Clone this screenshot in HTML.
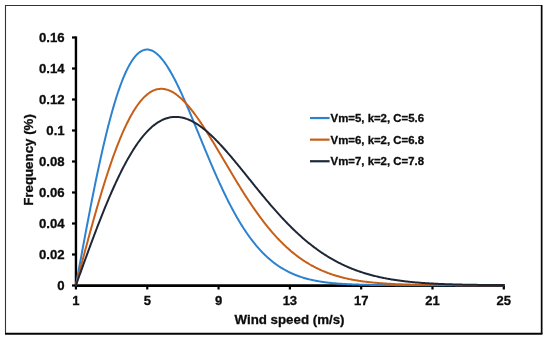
<!DOCTYPE html>
<html><head><meta charset="utf-8"><title>Weibull distribution</title>
<style>html,body{margin:0;padding:0;background:#fff;}text{stroke:#0c0c0c;stroke-width:.3px;}body{width:550px;height:342px;overflow:hidden;position:relative;font-family:"Liberation Sans",sans-serif;}</style>
</head><body>
<svg width="550" height="342" viewBox="0 0 550 342" style="position:absolute;left:0;top:0" font-family="Liberation Sans, sans-serif" font-weight="bold" fill="#0c0c0c">
<rect x="0" y="0" width="550" height="342" fill="#fff"/>
<path d="M5.5,334 V5.5 H542" fill="none" stroke="#333" stroke-width="1.1"/>
<path d="M5,333.65 H542.4" fill="none" stroke="#050505" stroke-width="2"/>
<path d="M541.65,5 V334" fill="none" stroke="#050505" stroke-width="1.7"/>
<path d="M75.95,36.4 V286.6" stroke="#000" stroke-width="2.4" fill="none"/>
<path d="M74.75,285.65 H504.90000000000003" stroke="#000" stroke-width="2.7" fill="none"/>
<path d="M72,285.50 H75.95" stroke="#000" stroke-width="2.2"/>
<text x="64.7" y="290.10" font-size="13.2" text-anchor="end">0</text>
<path d="M72,254.50 H75.95" stroke="#000" stroke-width="2.2"/>
<text x="64.7" y="259.10" font-size="13.2" text-anchor="end">0.02</text>
<path d="M72,223.50 H75.95" stroke="#000" stroke-width="2.2"/>
<text x="64.7" y="228.10" font-size="13.2" text-anchor="end">0.04</text>
<path d="M72,192.50 H75.95" stroke="#000" stroke-width="2.2"/>
<text x="64.7" y="197.10" font-size="13.2" text-anchor="end">0.06</text>
<path d="M72,161.50 H75.95" stroke="#000" stroke-width="2.2"/>
<text x="64.7" y="166.10" font-size="13.2" text-anchor="end">0.08</text>
<path d="M72,130.50 H75.95" stroke="#000" stroke-width="2.2"/>
<text x="64.7" y="135.10" font-size="13.2" text-anchor="end">0.1</text>
<path d="M72,99.50 H75.95" stroke="#000" stroke-width="2.2"/>
<text x="64.7" y="104.10" font-size="13.2" text-anchor="end">0.12</text>
<path d="M72,68.50 H75.95" stroke="#000" stroke-width="2.2"/>
<text x="64.7" y="73.10" font-size="13.2" text-anchor="end">0.14</text>
<path d="M72,37.50 H75.95" stroke="#000" stroke-width="2.2"/>
<text x="64.7" y="42.10" font-size="13.2" text-anchor="end">0.16</text>
<path d="M75.95,285.5 V289.5" stroke="#000" stroke-width="2.2"/>
<text x="75.95" y="304.9" font-size="13" text-anchor="middle">1</text>
<path d="M147.26,285.5 V289.5" stroke="#000" stroke-width="2.2"/>
<text x="147.26" y="304.9" font-size="13" text-anchor="middle">5</text>
<path d="M218.57,285.5 V289.5" stroke="#000" stroke-width="2.2"/>
<text x="218.57" y="304.9" font-size="13" text-anchor="middle">9</text>
<path d="M289.88,285.5 V289.5" stroke="#000" stroke-width="2.2"/>
<text x="289.88" y="304.9" font-size="13" text-anchor="middle">13</text>
<path d="M361.18,285.5 V289.5" stroke="#000" stroke-width="2.2"/>
<text x="361.18" y="304.9" font-size="13" text-anchor="middle">17</text>
<path d="M432.49,285.5 V289.5" stroke="#000" stroke-width="2.2"/>
<text x="432.49" y="304.9" font-size="13" text-anchor="middle">21</text>
<path d="M503.80,285.5 V289.5" stroke="#000" stroke-width="2.2"/>
<text x="503.80" y="304.9" font-size="13" text-anchor="middle">25</text>
<path d="M75.95,285.20 L76.84,280.33 L77.73,275.46 L78.62,270.60 L79.52,265.75 L80.41,260.90 L81.30,256.07 L82.19,251.24 L83.08,246.44 L83.97,241.65 L84.86,236.89 L85.75,232.14 L86.65,227.42 L87.54,222.73 L88.43,218.07 L89.32,213.44 L90.21,208.84 L91.10,204.28 L91.99,199.75 L92.89,195.27 L93.78,190.82 L94.67,186.42 L95.56,182.07 L96.45,177.76 L97.34,173.50 L98.23,169.29 L99.13,165.14 L100.02,161.04 L100.91,157.00 L101.80,153.01 L102.69,149.09 L103.58,145.22 L104.47,141.42 L105.36,137.68 L106.26,134.01 L107.15,130.40 L108.04,126.86 L108.93,123.40 L109.82,120.00 L110.71,116.67 L111.60,113.42 L112.50,110.24 L113.39,107.14 L114.28,104.12 L115.17,101.17 L116.06,98.29 L116.95,95.50 L117.84,92.79 L118.74,90.16 L119.63,87.60 L120.52,85.13 L121.41,82.74 L122.30,80.44 L123.19,78.21 L124.08,76.07 L124.97,74.01 L125.87,72.04 L126.76,70.15 L127.65,68.35 L128.54,66.63 L129.43,64.99 L130.32,63.44 L131.21,61.97 L132.11,60.58 L133.00,59.28 L133.89,58.07 L134.78,56.93 L135.67,55.88 L136.56,54.91 L137.45,54.03 L138.34,53.22 L139.24,52.50 L140.13,51.86 L141.02,51.30 L141.91,50.81 L142.80,50.41 L143.69,50.09 L144.58,49.84 L145.48,49.67 L146.37,49.57 L147.26,49.55 L148.15,49.60 L149.04,49.73 L149.93,49.92 L150.82,50.19 L151.72,50.53 L152.61,50.94 L153.50,51.41 L154.39,51.95 L155.28,52.56 L156.17,53.23 L157.06,53.96 L157.95,54.75 L158.85,55.61 L159.74,56.52 L160.63,57.50 L161.52,58.53 L162.41,59.61 L163.30,60.75 L164.19,61.94 L165.09,63.18 L165.98,64.47 L166.87,65.81 L167.76,67.20 L168.65,68.64 L169.54,70.11 L170.43,71.63 L171.32,73.19 L172.22,74.80 L173.11,76.44 L174.00,78.11 L174.89,79.83 L175.78,81.57 L176.67,83.36 L177.56,85.17 L178.46,87.01 L179.35,88.88 L180.24,90.78 L181.13,92.70 L182.02,94.65 L182.91,96.62 L183.80,98.62 L184.70,100.63 L185.59,102.67 L186.48,104.72 L187.37,106.78 L188.26,108.87 L189.15,110.97 L190.04,113.08 L190.93,115.20 L191.83,117.33 L192.72,119.47 L193.61,121.62 L194.50,123.77 L195.39,125.94 L196.28,128.10 L197.17,130.27 L198.07,132.44 L198.96,134.62 L199.85,136.79 L200.74,138.96 L201.63,141.13 L202.52,143.30 L203.41,145.46 L204.31,147.62 L205.20,149.77 L206.09,151.92 L206.98,154.06 L207.87,156.19 L208.76,158.32 L209.65,160.43 L210.54,162.53 L211.44,164.62 L212.33,166.70 L213.22,168.77 L214.11,170.82 L215.00,172.86 L215.89,174.89 L216.78,176.90 L217.68,178.89 L218.57,180.87 L219.46,182.83 L220.35,184.78 L221.24,186.70 L222.13,188.61 L223.02,190.50 L223.91,192.37 L224.81,194.23 L225.70,196.06 L226.59,197.87 L227.48,199.66 L228.37,201.43 L229.26,203.18 L230.15,204.91 L231.05,206.62 L231.94,208.30 L232.83,209.96 L233.72,211.61 L234.61,213.23 L235.50,214.82 L236.39,216.40 L237.29,217.95 L238.18,219.48 L239.07,220.98 L239.96,222.47 L240.85,223.93 L241.74,225.37 L242.63,226.78 L243.52,228.17 L244.42,229.54 L245.31,230.89 L246.20,232.21 L247.09,233.51 L247.98,234.79 L248.87,236.05 L249.76,237.28 L250.66,238.49 L251.55,239.68 L252.44,240.85 L253.33,241.99 L254.22,243.11 L255.11,244.22 L256.00,245.29 L256.89,246.35 L257.79,247.39 L258.68,248.41 L259.57,249.40 L260.46,250.37 L261.35,251.33 L262.24,252.26 L263.13,253.18 L264.03,254.07 L264.92,254.94 L265.81,255.80 L266.70,256.64 L267.59,257.45 L268.48,258.25 L269.37,259.03 L270.27,259.79 L271.16,260.54 L272.05,261.27 L272.94,261.98 L273.83,262.67 L274.72,263.34 L275.61,264.00 L276.50,264.65 L277.40,265.27 L278.29,265.89 L279.18,266.48 L280.07,267.06 L280.96,267.63 L281.85,268.18 L282.74,268.72 L283.64,269.24 L284.53,269.75 L285.42,270.24 L286.31,270.72 L287.20,271.19 L288.09,271.65 L288.98,272.09 L289.88,272.52 L290.77,272.94 L291.66,273.35 L292.55,273.75 L293.44,274.13 L294.33,274.50 L295.22,274.87 L296.11,275.22 L297.01,275.56 L297.90,275.89 L298.79,276.21 L299.68,276.53 L300.57,276.83 L301.46,277.12 L302.35,277.41 L303.25,277.68 L304.14,277.95 L305.03,278.21 L305.92,278.46 L306.81,278.70 L307.70,278.94 L308.59,279.17 L309.48,279.39 L310.38,279.60 L311.27,279.81 L312.16,280.01 L313.05,280.20 L313.94,280.39 L314.83,280.57 L315.72,280.74 L316.62,280.91 L317.51,281.08 L318.40,281.23 L319.29,281.38 L320.18,281.53 L321.07,281.67 L321.96,281.81 L322.86,281.94 L323.75,282.07 L324.64,282.19 L325.53,282.31 L326.42,282.43 L327.31,282.54 L328.20,282.64 L329.09,282.75 L329.99,282.85 L330.88,282.94 L331.77,283.03 L332.66,283.12 L333.55,283.21 L334.44,283.29 L335.33,283.37 L336.23,283.44 L337.12,283.52 L338.01,283.59 L338.90,283.65 L339.79,283.72 L340.68,283.78 L341.57,283.84 L342.46,283.90 L343.36,283.96 L344.25,284.01 L345.14,284.06 L346.03,284.11 L346.92,284.16 L347.81,284.20 L348.70,284.25 L349.60,284.29 L350.49,284.33 L351.38,284.37 L352.27,284.40 L353.16,284.44 L354.05,284.47 L354.94,284.51 L355.84,284.54 L356.73,284.57 L357.62,284.60 L358.51,284.62 L359.40,284.65 L360.29,284.67 L361.18,284.70 L362.07,284.72 L362.97,284.74 L363.86,284.77 L364.75,284.79 L365.64,284.81 L366.53,284.82 L367.42,284.84 L368.31,284.86 L369.21,284.87 L370.10,284.89 L370.99,284.90 L371.88,284.92 L372.77,284.93 L373.66,284.95 L374.55,284.96 L375.44,284.97 L376.34,284.98 L377.23,284.99 L378.12,285.00 L379.01,285.01 L379.90,285.02 L380.79,285.03 L381.68,285.04 L382.58,285.05 L383.47,285.05 L384.36,285.06 L385.25,285.07 L386.14,285.07 L387.03,285.08 L387.92,285.09 L388.82,285.09 L389.71,285.10 L390.60,285.10 L391.49,285.11 L392.38,285.11 L393.27,285.12 L394.16,285.12 L395.05,285.13 L395.95,285.13 L396.84,285.13 L397.73,285.14 L398.62,285.14 L399.51,285.14 L400.40,285.15 L401.29,285.15 L402.19,285.15 L403.08,285.15 L403.97,285.16 L404.86,285.16 L405.75,285.16 L406.64,285.16 L407.53,285.17 L408.43,285.17 L409.32,285.17 L410.21,285.17 L411.10,285.17 L411.99,285.17 L412.88,285.18 L413.77,285.18 L414.66,285.18 L415.56,285.18 L416.45,285.18 L417.34,285.18 L418.23,285.18 L419.12,285.18 L420.01,285.18 L420.90,285.19 L421.80,285.19 L422.69,285.19 L423.58,285.19 L424.47,285.19 L425.36,285.19 L426.25,285.19 L427.14,285.19 L428.03,285.19 L428.93,285.19 L429.82,285.19 L430.71,285.19 L431.60,285.19 L432.49,285.19 L433.38,285.19 L434.27,285.19 L435.17,285.19 L436.06,285.19 L436.95,285.19 L437.84,285.20 L438.73,285.20 L439.62,285.20 L440.51,285.20 L441.41,285.20 L442.30,285.20 L443.19,285.20 L444.08,285.20 L444.97,285.20 L445.86,285.20 L446.75,285.20 L447.64,285.20 L448.54,285.20 L449.43,285.20 L450.32,285.20 L451.21,285.20 L452.10,285.20 L452.99,285.20 L453.88,285.20 L454.78,285.20 L455.67,285.20 L456.56,285.20 L457.45,285.20 L458.34,285.20 L459.23,285.20 L460.12,285.20 L461.02,285.20 L461.91,285.20 L462.80,285.20 L463.69,285.20 L464.58,285.20 L465.47,285.20 L466.36,285.20 L467.25,285.20 L468.15,285.20 L469.04,285.20 L469.93,285.20 L470.82,285.20 L471.71,285.20 L472.60,285.20 L473.49,285.20 L474.39,285.20 L475.28,285.20 L476.17,285.20 L477.06,285.20 L477.95,285.20 L478.84,285.20 L479.73,285.20 L480.62,285.20 L481.52,285.20 L482.41,285.20 L483.30,285.20 L484.19,285.20 L485.08,285.20 L485.97,285.20 L486.86,285.20 L487.76,285.20 L488.65,285.20 L489.54,285.20 L490.43,285.20 L491.32,285.20 L492.21,285.20 L493.10,285.20 L494.00,285.20 L494.89,285.20 L495.78,285.20 L496.67,285.20 L497.56,285.20 L498.45,285.20 L499.34,285.20 L500.23,285.20 L501.13,285.20 L502.02,285.20 L502.91,285.20 L503.80,285.20" fill="none" stroke="#2d82cf" stroke-width="2.0" stroke-linejoin="round" stroke-linecap="round"/>
<path d="M75.95,285.20 L76.84,281.82 L77.73,278.44 L78.62,275.06 L79.52,271.69 L80.41,268.32 L81.30,264.95 L82.19,261.59 L83.08,258.24 L83.97,254.90 L84.86,251.57 L85.75,248.25 L86.65,244.94 L87.54,241.64 L88.43,238.36 L89.32,235.10 L90.21,231.84 L91.10,228.61 L91.99,225.40 L92.89,222.20 L93.78,219.03 L94.67,215.87 L95.56,212.74 L96.45,209.64 L97.34,206.55 L98.23,203.49 L99.13,200.46 L100.02,197.46 L100.91,194.48 L101.80,191.53 L102.69,188.61 L103.58,185.72 L104.47,182.87 L105.36,180.04 L106.26,177.25 L107.15,174.49 L108.04,171.77 L108.93,169.08 L109.82,166.43 L110.71,163.82 L111.60,161.24 L112.50,158.70 L113.39,156.20 L114.28,153.74 L115.17,151.32 L116.06,148.94 L116.95,146.60 L117.84,144.31 L118.74,142.05 L119.63,139.84 L120.52,137.67 L121.41,135.55 L122.30,133.47 L123.19,131.43 L124.08,129.45 L124.97,127.50 L125.87,125.60 L126.76,123.75 L127.65,121.95 L128.54,120.19 L129.43,118.48 L130.32,116.81 L131.21,115.20 L132.11,113.63 L133.00,112.11 L133.89,110.64 L134.78,109.21 L135.67,107.84 L136.56,106.51 L137.45,105.23 L138.34,104.00 L139.24,102.82 L140.13,101.69 L141.02,100.61 L141.91,99.57 L142.80,98.59 L143.69,97.65 L144.58,96.76 L145.48,95.92 L146.37,95.13 L147.26,94.39 L148.15,93.69 L149.04,93.04 L149.93,92.44 L150.82,91.89 L151.72,91.38 L152.61,90.92 L153.50,90.51 L154.39,90.14 L155.28,89.82 L156.17,89.54 L157.06,89.31 L157.95,89.13 L158.85,88.98 L159.74,88.89 L160.63,88.83 L161.52,88.82 L162.41,88.86 L163.30,88.93 L164.19,89.05 L165.09,89.20 L165.98,89.40 L166.87,89.64 L167.76,89.92 L168.65,90.24 L169.54,90.59 L170.43,90.99 L171.32,91.42 L172.22,91.89 L173.11,92.39 L174.00,92.94 L174.89,93.51 L175.78,94.12 L176.67,94.77 L177.56,95.45 L178.46,96.16 L179.35,96.90 L180.24,97.68 L181.13,98.48 L182.02,99.32 L182.91,100.19 L183.80,101.08 L184.70,102.00 L185.59,102.95 L186.48,103.93 L187.37,104.93 L188.26,105.96 L189.15,107.01 L190.04,108.09 L190.93,109.19 L191.83,110.32 L192.72,111.46 L193.61,112.63 L194.50,113.82 L195.39,115.02 L196.28,116.25 L197.17,117.50 L198.07,118.76 L198.96,120.04 L199.85,121.34 L200.74,122.65 L201.63,123.98 L202.52,125.32 L203.41,126.68 L204.31,128.05 L205.20,129.44 L206.09,130.83 L206.98,132.24 L207.87,133.66 L208.76,135.08 L209.65,136.52 L210.54,137.97 L211.44,139.42 L212.33,140.88 L213.22,142.35 L214.11,143.83 L215.00,145.31 L215.89,146.79 L216.78,148.28 L217.68,149.78 L218.57,151.28 L219.46,152.78 L220.35,154.28 L221.24,155.79 L222.13,157.30 L223.02,158.81 L223.91,160.32 L224.81,161.83 L225.70,163.33 L226.59,164.84 L227.48,166.35 L228.37,167.85 L229.26,169.35 L230.15,170.85 L231.05,172.35 L231.94,173.84 L232.83,175.32 L233.72,176.81 L234.61,178.29 L235.50,179.76 L236.39,181.22 L237.29,182.69 L238.18,184.14 L239.07,185.59 L239.96,187.03 L240.85,188.46 L241.74,189.89 L242.63,191.30 L243.52,192.71 L244.42,194.11 L245.31,195.50 L246.20,196.89 L247.09,198.26 L247.98,199.62 L248.87,200.98 L249.76,202.32 L250.66,203.65 L251.55,204.97 L252.44,206.29 L253.33,207.59 L254.22,208.88 L255.11,210.15 L256.00,211.42 L256.89,212.67 L257.79,213.92 L258.68,215.15 L259.57,216.37 L260.46,217.57 L261.35,218.77 L262.24,219.95 L263.13,221.12 L264.03,222.27 L264.92,223.42 L265.81,224.55 L266.70,225.67 L267.59,226.77 L268.48,227.86 L269.37,228.94 L270.27,230.01 L271.16,231.06 L272.05,232.10 L272.94,233.13 L273.83,234.14 L274.72,235.14 L275.61,236.13 L276.50,237.10 L277.40,238.06 L278.29,239.01 L279.18,239.94 L280.07,240.86 L280.96,241.77 L281.85,242.66 L282.74,243.54 L283.64,244.41 L284.53,245.27 L285.42,246.11 L286.31,246.94 L287.20,247.76 L288.09,248.56 L288.98,249.35 L289.88,250.13 L290.77,250.89 L291.66,251.65 L292.55,252.39 L293.44,253.12 L294.33,253.83 L295.22,254.54 L296.11,255.23 L297.01,255.91 L297.90,256.58 L298.79,257.23 L299.68,257.88 L300.57,258.51 L301.46,259.14 L302.35,259.75 L303.25,260.35 L304.14,260.93 L305.03,261.51 L305.92,262.08 L306.81,262.63 L307.70,263.18 L308.59,263.71 L309.48,264.24 L310.38,264.75 L311.27,265.26 L312.16,265.75 L313.05,266.23 L313.94,266.71 L314.83,267.17 L315.72,267.63 L316.62,268.07 L317.51,268.51 L318.40,268.94 L319.29,269.35 L320.18,269.76 L321.07,270.16 L321.96,270.56 L322.86,270.94 L323.75,271.32 L324.64,271.68 L325.53,272.04 L326.42,272.39 L327.31,272.74 L328.20,273.07 L329.09,273.40 L329.99,273.72 L330.88,274.03 L331.77,274.34 L332.66,274.64 L333.55,274.93 L334.44,275.21 L335.33,275.49 L336.23,275.76 L337.12,276.03 L338.01,276.29 L338.90,276.54 L339.79,276.79 L340.68,277.03 L341.57,277.26 L342.46,277.49 L343.36,277.71 L344.25,277.93 L345.14,278.14 L346.03,278.35 L346.92,278.55 L347.81,278.74 L348.70,278.94 L349.60,279.12 L350.49,279.30 L351.38,279.48 L352.27,279.65 L353.16,279.82 L354.05,279.98 L354.94,280.14 L355.84,280.30 L356.73,280.45 L357.62,280.59 L358.51,280.73 L359.40,280.87 L360.29,281.01 L361.18,281.14 L362.07,281.27 L362.97,281.39 L363.86,281.51 L364.75,281.63 L365.64,281.74 L366.53,281.85 L367.42,281.96 L368.31,282.06 L369.21,282.16 L370.10,282.26 L370.99,282.36 L371.88,282.45 L372.77,282.54 L373.66,282.63 L374.55,282.71 L375.44,282.79 L376.34,282.87 L377.23,282.95 L378.12,283.03 L379.01,283.10 L379.90,283.17 L380.79,283.24 L381.68,283.30 L382.58,283.37 L383.47,283.43 L384.36,283.49 L385.25,283.55 L386.14,283.61 L387.03,283.66 L387.92,283.72 L388.82,283.77 L389.71,283.82 L390.60,283.87 L391.49,283.91 L392.38,283.96 L393.27,284.00 L394.16,284.04 L395.05,284.09 L395.95,284.13 L396.84,284.16 L397.73,284.20 L398.62,284.24 L399.51,284.27 L400.40,284.31 L401.29,284.34 L402.19,284.37 L403.08,284.40 L403.97,284.43 L404.86,284.46 L405.75,284.48 L406.64,284.51 L407.53,284.54 L408.43,284.56 L409.32,284.59 L410.21,284.61 L411.10,284.63 L411.99,284.65 L412.88,284.67 L413.77,284.69 L414.66,284.71 L415.56,284.73 L416.45,284.75 L417.34,284.77 L418.23,284.78 L419.12,284.80 L420.01,284.81 L420.90,284.83 L421.80,284.84 L422.69,284.86 L423.58,284.87 L424.47,284.88 L425.36,284.90 L426.25,284.91 L427.14,284.92 L428.03,284.93 L428.93,284.94 L429.82,284.95 L430.71,284.96 L431.60,284.97 L432.49,284.98 L433.38,284.99 L434.27,285.00 L435.17,285.01 L436.06,285.01 L436.95,285.02 L437.84,285.03 L438.73,285.04 L439.62,285.04 L440.51,285.05 L441.41,285.06 L442.30,285.06 L443.19,285.07 L444.08,285.07 L444.97,285.08 L445.86,285.08 L446.75,285.09 L447.64,285.09 L448.54,285.10 L449.43,285.10 L450.32,285.11 L451.21,285.11 L452.10,285.11 L452.99,285.12 L453.88,285.12 L454.78,285.12 L455.67,285.13 L456.56,285.13 L457.45,285.13 L458.34,285.14 L459.23,285.14 L460.12,285.14 L461.02,285.14 L461.91,285.15 L462.80,285.15 L463.69,285.15 L464.58,285.15 L465.47,285.16 L466.36,285.16 L467.25,285.16 L468.15,285.16 L469.04,285.16 L469.93,285.16 L470.82,285.17 L471.71,285.17 L472.60,285.17 L473.49,285.17 L474.39,285.17 L475.28,285.17 L476.17,285.17 L477.06,285.18 L477.95,285.18 L478.84,285.18 L479.73,285.18 L480.62,285.18 L481.52,285.18 L482.41,285.18 L483.30,285.18 L484.19,285.18 L485.08,285.18 L485.97,285.18 L486.86,285.19 L487.76,285.19 L488.65,285.19 L489.54,285.19 L490.43,285.19 L491.32,285.19 L492.21,285.19 L493.10,285.19 L494.00,285.19 L494.89,285.19 L495.78,285.19 L496.67,285.19 L497.56,285.19 L498.45,285.19 L499.34,285.19 L500.23,285.19 L501.13,285.19 L502.02,285.19 L502.91,285.19 L503.80,285.19" fill="none" stroke="#c75f18" stroke-width="2.0" stroke-linejoin="round" stroke-linecap="round"/>
<path d="M75.95,285.20 L76.84,282.72 L77.73,280.23 L78.62,277.75 L79.52,275.27 L80.41,272.79 L81.30,270.31 L82.19,267.84 L83.08,265.38 L83.97,262.91 L84.86,260.46 L85.75,258.00 L86.65,255.56 L87.54,253.12 L88.43,250.69 L89.32,248.27 L90.21,245.85 L91.10,243.45 L91.99,241.06 L92.89,238.67 L93.78,236.30 L94.67,233.94 L95.56,231.59 L96.45,229.26 L97.34,226.93 L98.23,224.63 L99.13,222.33 L100.02,220.05 L100.91,217.79 L101.80,215.54 L102.69,213.31 L103.58,211.09 L104.47,208.89 L105.36,206.71 L106.26,204.55 L107.15,202.41 L108.04,200.29 L108.93,198.18 L109.82,196.10 L110.71,194.04 L111.60,191.99 L112.50,189.97 L113.39,187.98 L114.28,186.00 L115.17,184.05 L116.06,182.11 L116.95,180.21 L117.84,178.32 L118.74,176.46 L119.63,174.63 L120.52,172.82 L121.41,171.04 L122.30,169.28 L123.19,167.54 L124.08,165.84 L124.97,164.16 L125.87,162.50 L126.76,160.87 L127.65,159.28 L128.54,157.70 L129.43,156.16 L130.32,154.64 L131.21,153.16 L132.11,151.70 L133.00,150.27 L133.89,148.86 L134.78,147.49 L135.67,146.15 L136.56,144.83 L137.45,143.55 L138.34,142.29 L139.24,141.07 L140.13,139.87 L141.02,138.71 L141.91,137.58 L142.80,136.47 L143.69,135.40 L144.58,134.35 L145.48,133.34 L146.37,132.36 L147.26,131.41 L148.15,130.49 L149.04,129.60 L149.93,128.74 L150.82,127.91 L151.72,127.11 L152.61,126.34 L153.50,125.60 L154.39,124.90 L155.28,124.22 L156.17,123.58 L157.06,122.96 L157.95,122.38 L158.85,121.82 L159.74,121.30 L160.63,120.80 L161.52,120.34 L162.41,119.91 L163.30,119.50 L164.19,119.13 L165.09,118.78 L165.98,118.47 L166.87,118.18 L167.76,117.92 L168.65,117.69 L169.54,117.49 L170.43,117.32 L171.32,117.18 L172.22,117.06 L173.11,116.98 L174.00,116.92 L174.89,116.88 L175.78,116.88 L176.67,116.90 L177.56,116.95 L178.46,117.02 L179.35,117.12 L180.24,117.25 L181.13,117.40 L182.02,117.58 L182.91,117.78 L183.80,118.01 L184.70,118.26 L185.59,118.54 L186.48,118.83 L187.37,119.16 L188.26,119.50 L189.15,119.87 L190.04,120.27 L190.93,120.68 L191.83,121.12 L192.72,121.58 L193.61,122.06 L194.50,122.56 L195.39,123.08 L196.28,123.62 L197.17,124.18 L198.07,124.76 L198.96,125.36 L199.85,125.98 L200.74,126.62 L201.63,127.27 L202.52,127.94 L203.41,128.64 L204.31,129.34 L205.20,130.07 L206.09,130.81 L206.98,131.57 L207.87,132.34 L208.76,133.13 L209.65,133.93 L210.54,134.75 L211.44,135.58 L212.33,136.42 L213.22,137.28 L214.11,138.15 L215.00,139.04 L215.89,139.93 L216.78,140.84 L217.68,141.76 L218.57,142.69 L219.46,143.64 L220.35,144.59 L221.24,145.55 L222.13,146.52 L223.02,147.50 L223.91,148.50 L224.81,149.49 L225.70,150.50 L226.59,151.52 L227.48,152.54 L228.37,153.57 L229.26,154.61 L230.15,155.65 L231.05,156.70 L231.94,157.76 L232.83,158.82 L233.72,159.89 L234.61,160.96 L235.50,162.04 L236.39,163.12 L237.29,164.20 L238.18,165.29 L239.07,166.38 L239.96,167.48 L240.85,168.58 L241.74,169.68 L242.63,170.78 L243.52,171.88 L244.42,172.99 L245.31,174.09 L246.20,175.20 L247.09,176.31 L247.98,177.42 L248.87,178.53 L249.76,179.63 L250.66,180.74 L251.55,181.85 L252.44,182.96 L253.33,184.06 L254.22,185.17 L255.11,186.27 L256.00,187.37 L256.89,188.47 L257.79,189.56 L258.68,190.66 L259.57,191.75 L260.46,192.84 L261.35,193.92 L262.24,195.00 L263.13,196.08 L264.03,197.15 L264.92,198.22 L265.81,199.29 L266.70,200.35 L267.59,201.40 L268.48,202.46 L269.37,203.50 L270.27,204.54 L271.16,205.58 L272.05,206.61 L272.94,207.64 L273.83,208.66 L274.72,209.67 L275.61,210.68 L276.50,211.68 L277.40,212.68 L278.29,213.67 L279.18,214.65 L280.07,215.63 L280.96,216.60 L281.85,217.56 L282.74,218.52 L283.64,219.46 L284.53,220.41 L285.42,221.34 L286.31,222.27 L287.20,223.19 L288.09,224.10 L288.98,225.01 L289.88,225.90 L290.77,226.79 L291.66,227.67 L292.55,228.55 L293.44,229.41 L294.33,230.27 L295.22,231.12 L296.11,231.96 L297.01,232.80 L297.90,233.63 L298.79,234.44 L299.68,235.25 L300.57,236.05 L301.46,236.85 L302.35,237.63 L303.25,238.41 L304.14,239.18 L305.03,239.94 L305.92,240.69 L306.81,241.43 L307.70,242.17 L308.59,242.90 L309.48,243.62 L310.38,244.33 L311.27,245.03 L312.16,245.72 L313.05,246.41 L313.94,247.08 L314.83,247.75 L315.72,248.41 L316.62,249.06 L317.51,249.71 L318.40,250.34 L319.29,250.97 L320.18,251.59 L321.07,252.20 L321.96,252.81 L322.86,253.40 L323.75,253.99 L324.64,254.57 L325.53,255.14 L326.42,255.70 L327.31,256.26 L328.20,256.80 L329.09,257.34 L329.99,257.88 L330.88,258.40 L331.77,258.92 L332.66,259.43 L333.55,259.93 L334.44,260.42 L335.33,260.91 L336.23,261.39 L337.12,261.86 L338.01,262.33 L338.90,262.78 L339.79,263.23 L340.68,263.68 L341.57,264.11 L342.46,264.54 L343.36,264.97 L344.25,265.38 L345.14,265.79 L346.03,266.19 L346.92,266.59 L347.81,266.98 L348.70,267.36 L349.60,267.73 L350.49,268.10 L351.38,268.47 L352.27,268.82 L353.16,269.18 L354.05,269.52 L354.94,269.86 L355.84,270.19 L356.73,270.52 L357.62,270.84 L358.51,271.16 L359.40,271.47 L360.29,271.77 L361.18,272.07 L362.07,272.36 L362.97,272.65 L363.86,272.93 L364.75,273.21 L365.64,273.48 L366.53,273.75 L367.42,274.01 L368.31,274.26 L369.21,274.52 L370.10,274.76 L370.99,275.00 L371.88,275.24 L372.77,275.47 L373.66,275.70 L374.55,275.93 L375.44,276.15 L376.34,276.36 L377.23,276.57 L378.12,276.78 L379.01,276.98 L379.90,277.18 L380.79,277.37 L381.68,277.56 L382.58,277.75 L383.47,277.93 L384.36,278.11 L385.25,278.28 L386.14,278.45 L387.03,278.62 L387.92,278.78 L388.82,278.94 L389.71,279.10 L390.60,279.25 L391.49,279.40 L392.38,279.55 L393.27,279.69 L394.16,279.83 L395.05,279.97 L395.95,280.10 L396.84,280.23 L397.73,280.36 L398.62,280.49 L399.51,280.61 L400.40,280.73 L401.29,280.84 L402.19,280.96 L403.08,281.07 L403.97,281.18 L404.86,281.29 L405.75,281.39 L406.64,281.49 L407.53,281.59 L408.43,281.69 L409.32,281.78 L410.21,281.87 L411.10,281.96 L411.99,282.05 L412.88,282.14 L413.77,282.22 L414.66,282.30 L415.56,282.38 L416.45,282.46 L417.34,282.54 L418.23,282.61 L419.12,282.68 L420.01,282.75 L420.90,282.82 L421.80,282.89 L422.69,282.95 L423.58,283.02 L424.47,283.08 L425.36,283.14 L426.25,283.20 L427.14,283.25 L428.03,283.31 L428.93,283.36 L429.82,283.42 L430.71,283.47 L431.60,283.52 L432.49,283.57 L433.38,283.62 L434.27,283.66 L435.17,283.71 L436.06,283.75 L436.95,283.79 L437.84,283.83 L438.73,283.88 L439.62,283.91 L440.51,283.95 L441.41,283.99 L442.30,284.03 L443.19,284.06 L444.08,284.10 L444.97,284.13 L445.86,284.16 L446.75,284.19 L447.64,284.22 L448.54,284.25 L449.43,284.28 L450.32,284.31 L451.21,284.34 L452.10,284.37 L452.99,284.39 L453.88,284.42 L454.78,284.44 L455.67,284.46 L456.56,284.49 L457.45,284.51 L458.34,284.53 L459.23,284.55 L460.12,284.57 L461.02,284.59 L461.91,284.61 L462.80,284.63 L463.69,284.65 L464.58,284.67 L465.47,284.68 L466.36,284.70 L467.25,284.72 L468.15,284.73 L469.04,284.75 L469.93,284.76 L470.82,284.78 L471.71,284.79 L472.60,284.80 L473.49,284.82 L474.39,284.83 L475.28,284.84 L476.17,284.85 L477.06,284.87 L477.95,284.88 L478.84,284.89 L479.73,284.90 L480.62,284.91 L481.52,284.92 L482.41,284.93 L483.30,284.94 L484.19,284.95 L485.08,284.95 L485.97,284.96 L486.86,284.97 L487.76,284.98 L488.65,284.99 L489.54,284.99 L490.43,285.00 L491.32,285.01 L492.21,285.01 L493.10,285.02 L494.00,285.03 L494.89,285.03 L495.78,285.04 L496.67,285.04 L497.56,285.05 L498.45,285.06 L499.34,285.06 L500.23,285.07 L501.13,285.07 L502.02,285.07 L502.91,285.08 L503.80,285.08" fill="none" stroke="#1f2737" stroke-width="2.0" stroke-linejoin="round" stroke-linecap="round"/>
<text x="289.5" y="324.2" font-size="13.3" text-anchor="middle">Wind speed (m/s)</text>
<text transform="translate(33.3,160) rotate(-90)" font-size="13.3" text-anchor="middle">Frequency (%)</text>
<path d="M310,118.05 H329.6" stroke="#2d82cf" stroke-width="2.2"/>
<text x="330.6" y="122.25" font-size="11.4">Vm=5, k=2, C=5.6</text>
<path d="M310,139.65 H329.6" stroke="#c75f18" stroke-width="2.2"/>
<text x="330.6" y="143.85" font-size="11.4">Vm=6, k=2, C=6.8</text>
<path d="M310,161.25 H329.6" stroke="#1f2737" stroke-width="2.2"/>
<text x="330.6" y="165.45" font-size="11.4">Vm=7, k=2, C=7.8</text>
</svg>
</body></html>
